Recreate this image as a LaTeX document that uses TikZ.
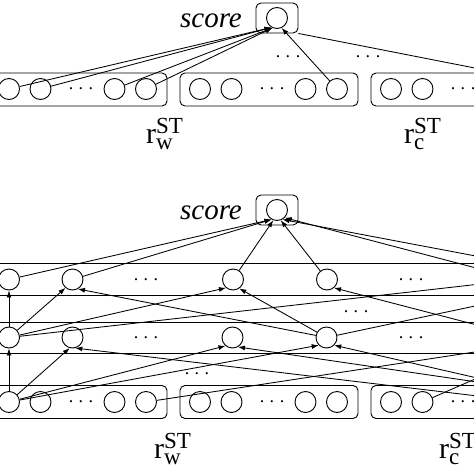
\documentclass[tikz,border=0pt]{standalone}
\usepackage{fontspec}
\setmainfont{Liberation Serif}
\usetikzlibrary{arrows.meta}

\DeclareMathSizes{30}{30}{23}{17}
\newcommand{\gapdots}{.\kern5.5pt.\kern5.5pt.}

\tikzset{
   unit/.style={circle, draw=black, line width=0.9pt, minimum size=21pt, inner sep=0pt},
   group/.style={draw=black, line width=0.9pt, rounded corners=5pt, minimum width=178pt, minimum height=33pt, inner sep=0pt},
   layer/.style={draw=black, line width=0.9pt, minimum width=530pt, minimum height=32pt, inner sep=0pt},
   scorebox/.style={draw=black, line width=0.9pt, rounded corners=5pt, minimum width=42pt, minimum height=30pt, inner sep=0pt},
   gap/.style={inner sep=0pt, font=\fontsize{18}{18}\selectfont},
   link/.style={line width=0.85pt, -{Latex[length=7pt,width=5pt]}},
   lab/.style={anchor=base west, inner sep=0pt, font=\fontsize{30}{30}\selectfont},
   scorelab/.style={anchor=base, inner sep=0pt, font=\fontsize{29}{29}\selectfont\itshape}
}

\begin{document}
\begin{tikzpicture}[x=1pt, y=-1pt]
      \useasboundingbox (0,0) rectangle (474,474);
      \clip (0,0) rectangle (474,474);

      % upper network
      \node[scorebox, name=sbt] at (277,18) {};
      \node[unit, name=sct] at (277,18) {};
      \node[scorelab, name=sclt] at (211,27) {score};
      \node[gap, name=tskip1] at (288,57) {\gapdots};
      \node[gap, name=tskip2] at (368,57) {\gapdots};

      \foreach \g/\x in {a/-11, b/180, c/371, d/562} {
         \node[group] (tbox\g) at (\x+89,89.5) {};
         \node[unit] (t\g1) at (\x+20,89) {};
         \node[unit] (t\g2) at (\x+51.5,89) {};
         \node[gap] (tdots\g) at (\x+92,89) {\gapdots};
         \node[unit] (t\g3) at (\x+125.5,89) {};
         \node[unit] (t\g4) at (\x+157,89) {};
      }

      \node[lab, name=twlab] at (146,143) {$\mathrm{r}_{\mathrm{w}}^{\mathrm{ST}}$};
      \node[lab, name=tclab] at (404,143) {$\mathrm{r}_{\mathrm{c}}^{\mathrm{ST}}$};

      \path[link]
         (ta1) edge (sct.240)
         (ta2) edge (sct.240)
         (ta3) edge (sct.245)
         (ta4) edge (sct.245)
         (tb4) edge (sct.295);
      \path[-, line width=0.85pt]
         (td1) edge (sbt.south east);

      % lower network
      \node[scorebox, name=sbb] at (277,210) {};
      \node[unit, name=scb] at (277,210) {};
      \node[scorelab, name=sclb] at (211,219) {score};

      \node[layer, name=band1] at (237,279) {};
      \node[layer, minimum height=31pt, name=band2] at (237,337.5) {};
      \foreach \n/\x in {a/9, b/72.5, c/233, d/327, e/520, f/600}
         \node[unit] (h1\n) at (\x,279.5) {};
      \foreach \n/\x in {a/9, b/72.5, c/232.5, d/326.5, e/525, f/570}
         \node[unit] (h2\n) at (\x,337.5) {};
      \node[gap, name=h1dots1] at (146,279.5) {\gapdots};
      \node[gap, name=h1dots2] at (411,279.5) {\gapdots};
      \node[gap, name=h2dots1] at (146,337.5) {\gapdots};
      \node[gap, name=h2dots2] at (411,337.5) {\gapdots};
      \node[gap, name=hskip1] at (356,312) {\gapdots};
      \node[gap, name=hskip2] at (197,374) {\gapdots};

      \foreach \g/\x in {a/-11, b/180, c/371, d/562} {
         \node[group] (bbox\g) at (\x+89,402) {};
         \node[unit] (b\g1) at (\x+20,402) {};
         \node[unit] (b\g2) at (\x+51.5,402) {};
         \node[gap] (bdots\g) at (\x+92,402) {\gapdots};
         \node[unit] (b\g3) at (\x+125.5,402) {};
         \node[unit] (b\g4) at (\x+157,402) {};
      }

      \node[lab, name=bwlab] at (154,458) {$\mathrm{r}_{\mathrm{w}}^{\mathrm{ST}}$};
      \node[lab, name=bclab] at (439,458) {$\mathrm{r}_{\mathrm{c}}^{\mathrm{ST}}$};

      \path[link]
         (h1a) edge (scb.240)
         (h1b) edge (scb.240)
         (h1c) edge (scb.250)
         (h1d) edge (scb.290)
         (h1e) edge (scb.315)
         (h1f) edge (scb.300)
         (h2a) edge (h1a.south)
         (h2a) edge (h1b.230)
         (h2a) edge (h1c.230)
         (h2a) edge (h1e)
         (h2d) edge (h1b.300)
         (h2d) edge (h1c.305)
         (h2d) edge (h1f)
         (h2e) edge (h1d.310)
         (ba1) edge (h2a.south)
         (ba1) edge (h2b.255)
         (ba1) edge (h2c.230)
         (ba1) edge (h2d.225)
         (bc4) edge (h2b.285)
         (bd2) edge (h2c.300)
         (bd1) edge (h2d.315)
         (ba4) edge (h2f)
         (bc2) edge (h2f);
\end{tikzpicture}
\end{document}
